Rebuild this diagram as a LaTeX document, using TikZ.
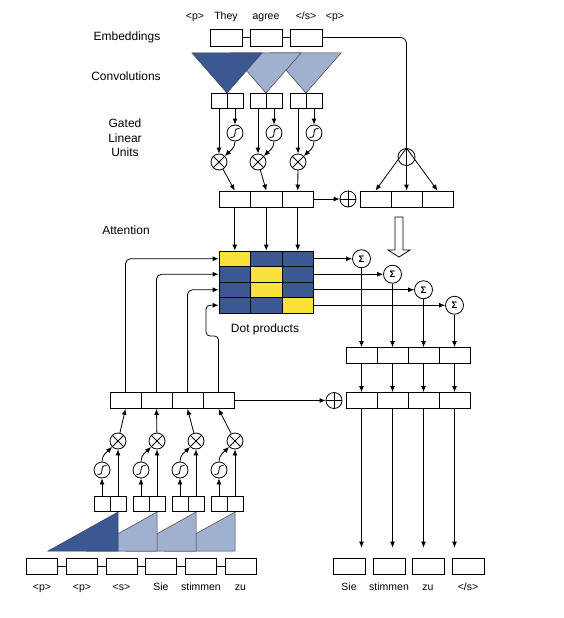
\documentclass[tikz,border=0pt]{standalone}
\usepackage{fontspec}
\setmainfont{Liberation Sans}
\usepackage{xcolor}
\usepackage{tikz}
\usetikzlibrary{arrows.meta}

\definecolor{convdark}{RGB}{59,88,146}
\definecolor{convlight}{RGB}{160,176,207}
\definecolor{hotcell}{RGB}{249,226,60}

\begin{document}
\begin{tikzpicture}[
  x=1pt, y=-1pt,
  box/.style={rectangle, draw, thick, minimum width=31pt, minimum height=16pt, inner sep=0pt},
  halfbox/.style={rectangle, draw, thick, minimum width=16pt, minimum height=15pt, inner sep=0pt},
  cell/.style={rectangle, draw, thick, fill=convdark, minimum width=31.5pt, minimum height=15.5pt, inner sep=0pt},
  op/.style={circle, draw, thick, fill=white, minimum size=16pt, inner sep=0pt},
  mul/.style={op, path picture={
      \draw[thick] (path picture bounding box.north west) -- (path picture bounding box.south east)
                   (path picture bounding box.north east) -- (path picture bounding box.south west);}},
  add/.style={op, path picture={
      \draw[thick] (path picture bounding box.north) -- (path picture bounding box.south)
                   (path picture bounding box.west) -- (path picture bounding box.east);}},
  sig/.style={op, path picture={
      \draw[thick] ([shift={(-4.5,4.5)}]path picture bounding box.center)
        .. controls +(9,0) and +(-9,0) .. ([shift={(4.5,-4.5)}]path picture bounding box.center);}},
  sum/.style={circle, draw, thick, fill=white, minimum size=18pt, inner sep=0pt, font=\fontsize{9.5}{9.5}\selectfont\bfseries},
  heading/.style={font=\fontsize{12}{14.5}\selectfont, align=center},
  word/.style={font=\fontsize{10.5}{12}\selectfont, text height=8pt, text depth=2pt},
  conv/.style={draw=black!75, line width=0.5pt},
  arrow/.style={->, thick, >={Latex[length=6pt, width=5pt]}}
]
\useasboundingbox (0,0) rectangle (563,618);

% headings
\node[heading] (embtitle) at (127,37.5) {Embeddings};
\node[heading] (convtitle) at (126,76) {Convolutions};
\node[heading] (glutitle) at (125,138) {Gated\\Linear\\Units};
\node[heading] (atttitle) at (126,230) {Attention};
\node[heading] (dottitle) at (265,329) {Dot products};

% source sentence
\node[word] (src0) at (195,17) {<p>};
\node[word] (src1) at (226,17) {They};
\node[word] (src2) at (266,17) {agree};
\node[word] (src3) at (306,17) {</s>};
\node[word] (src4) at (335,17) {<p>};

\node[box, minimum width=32pt, minimum height=17pt] (emb1) at (226,37.5) {};
\node[box, minimum width=32pt, minimum height=17pt] (emb2) at (266,37.5) {};
\node[box, minimum width=32pt, minimum height=17pt] (emb3) at (306,37.5) {};
\draw[thick] (emb1) -- (emb2);
\draw[thick] (emb2) -- (emb3);

% encoder convolutions
\filldraw[conv, fill=convlight] (271,53) -- (341,53) -- (306,93) -- cycle;
\filldraw[conv, fill=convlight] (231,53) -- (301,53) -- (266,93) -- cycle;
\filldraw[conv, fill=convdark] (192,53) -- (262,53) -- (227,93) -- cycle;

\node[halfbox] (encl1) at (219,100.5) {};
\node[halfbox] (encr1) at (235,100.5) {};
\node[halfbox] (encl2) at (258,100.5) {};
\node[halfbox] (encr2) at (274,100.5) {};
\node[halfbox] (encl3) at (298,100.5) {};
\node[halfbox] (encr3) at (314,100.5) {};

% encoder gated linear units
\node[sig] (encsig1) at (235,133) {};
\node[sig] (encsig2) at (274,133) {};
\node[sig] (encsig3) at (314,133) {};
\node[mul] (encmul1) at (219,162) {};
\node[mul] (encmul2) at (258,162) {};
\node[mul] (encmul3) at (298,162) {};

\draw[arrow] (encl1.south) -- (encmul1.north);
\draw[arrow] (encl2.south) -- (encmul2.north);
\draw[arrow] (encl3.south) -- (encmul3.north);
\draw[arrow] (encr1.south) -- (encsig1.north);
\draw[arrow] (encr2.south) -- (encsig2.north);
\draw[arrow] (encr3.south) -- (encsig3.north);
\draw[arrow] (encsig1.south) to[out=-90, in=45] (encmul1.north east);
\draw[arrow] (encsig2.south) to[out=-90, in=45] (encmul2.north east);
\draw[arrow] (encsig3.south) to[out=-90, in=45] (encmul3.north east);

\node[box, minimum width=31.5pt] (enc1) at (234.75,199) {};
\node[box, minimum width=31.5pt] (enc2) at (266.25,199) {};
\node[box, minimum width=31.5pt] (enc3) at (297.75,199) {};
\draw[arrow] (encmul1) -- (enc1.north);
\draw[arrow] (encmul2) -- (enc2.north);
\draw[arrow] (encmul3) -- (enc3.north);

% residual from the embeddings
\node[add] (add1) at (348,199) {};
\node[op, minimum size=17pt] (split) at (406.5,157) {};
\node[box] (res1) at (375.5,199) {};
\node[box] (res2) at (406.5,199) {};
\node[box] (res3) at (437.5,199) {};
\draw[arrow] (enc3.east) -- (add1.west);
\draw[thick, rounded corners=6pt] (emb3.east) -| (split.north);
\draw[arrow] (split.north) -- (res1.north);
\draw[arrow] (split.north) -- (res2.north);
\draw[arrow] (split.north) -- (res3.north);
\draw[thick, fill=white] (395,217) -- (403,217) -- (403,250) -- (410,250) -- (399,257)
  -- (388,250) -- (395,250) -- cycle;

% attention matrix
\node[cell, fill=hotcell] (att11) at (234.75,258.75) {};
\node[cell] (att12) at (266.25,258.75) {};
\node[cell] (att13) at (297.75,258.75) {};
\node[cell] (att21) at (234.75,274.25) {};
\node[cell, fill=hotcell] (att22) at (266.25,274.25) {};
\node[cell] (att23) at (297.75,274.25) {};
\node[cell] (att31) at (234.75,289.75) {};
\node[cell, fill=hotcell] (att32) at (266.25,289.75) {};
\node[cell] (att33) at (297.75,289.75) {};
\node[cell] (att41) at (234.75,305.25) {};
\node[cell] (att42) at (266.25,305.25) {};
\node[cell, fill=hotcell] (att43) at (297.75,305.25) {};
\draw[arrow] (enc1.south) -- (att11.north);
\draw[arrow] (enc2.south) -- (att12.north);
\draw[arrow] (enc3.south) -- (att13.north);

\node[sum] (sum1) at (361.5,258.75) {Σ};
\node[sum] (sum2) at (392.5,274.25) {Σ};
\node[sum] (sum3) at (423.5,289.75) {Σ};
\node[sum] (sum4) at (454.5,305.25) {Σ};
\draw[arrow] (att13.east) -- (sum1.west);
\draw[arrow] (att23.east) -- (sum2.west);
\draw[arrow] (att33.east) -- (sum3.west);
\draw[arrow] (att43.east) -- (sum4.west);

% context vectors
\node[box] (ctx1) at (361.5,355.5) {};
\node[box] (ctx2) at (392.5,355.5) {};
\node[box] (ctx3) at (423.5,355.5) {};
\node[box] (ctx4) at (454.5,355.5) {};
\draw[arrow] (sum1.south) -- (ctx1.north);
\draw[arrow] (sum2.south) -- (ctx2.north);
\draw[arrow] (sum3.south) -- (ctx3.north);
\draw[arrow] (sum4.south) -- (ctx4.north);

\node[add] (add2) at (334,400.5) {};
\node[box] (comb1) at (361.5,400.5) {};
\node[box] (comb2) at (392.5,400.5) {};
\node[box] (comb3) at (423.5,400.5) {};
\node[box] (comb4) at (454.5,400.5) {};
\draw[arrow] (ctx1.south) -- (comb1.north);
\draw[arrow] (ctx2.south) -- (comb2.north);
\draw[arrow] (ctx3.south) -- (comb3.north);
\draw[arrow] (ctx4.south) -- (comb4.north);

% predictions
\node[box, minimum width=32pt] (out1) at (349,566) {};
\node[box, minimum width=32pt] (out2) at (389,566) {};
\node[box, minimum width=32pt] (out3) at (428,566) {};
\node[box, minimum width=32pt] (out4) at (468,566) {};
\draw[arrow, shorten >=10pt] (comb1.south) -- (comb1.south |- out1.north);
\draw[arrow, shorten >=10pt] (comb2.south) -- (comb2.south |- out2.north);
\draw[arrow, shorten >=10pt] (comb3.south) -- (comb3.south |- out3.north);
\draw[arrow, shorten >=10pt] (comb4.south) -- (comb4.south |- out4.north);
\node[word] (pred1) at (349,587) {Sie};
\node[word] (pred2) at (389,587) {stimmen};
\node[word] (pred3) at (428,587) {zu};
\node[word] (pred4) at (468,587) {</s>};

% decoder states
\node[box] (dec1) at (125.5,400.5) {};
\node[box] (dec2) at (156.5,400.5) {};
\node[box] (dec3) at (187.5,400.5) {};
\node[box] (dec4) at (218.5,400.5) {};
\coordinate (jog) at (206,336);
\draw[arrow, rounded corners=5pt] (dec1.north) |- (att11.west);
\draw[arrow, rounded corners=5pt] (dec2.north) |- (att21.west);
\draw[arrow, rounded corners=5pt] (dec3.north) |- (att31.west);
\draw[arrow, rounded corners=4pt] (dec4.north) |- (jog) |- (att41.west);
\draw[arrow] (dec4.east) -- (add2.west);

% decoder gated linear units
\node[mul] (decmul1) at (118,441) {};
\node[mul] (decmul2) at (157,441) {};
\node[mul] (decmul3) at (196,441) {};
\node[mul] (decmul4) at (235,441) {};
\node[sig] (decsig1) at (102,470) {};
\node[sig] (decsig2) at (141,470) {};
\node[sig] (decsig3) at (180,470) {};
\node[sig] (decsig4) at (219,470) {};
\draw[arrow] (decmul1) -- (dec1.south);
\draw[arrow] (decmul2) -- (dec2.south);
\draw[arrow] (decmul3) -- (dec3.south);
\draw[arrow] (decmul4) -- (dec4.south);

\node[halfbox] (decl1) at (102,504) {};
\node[halfbox] (decr1) at (118,504) {};
\node[halfbox] (decl2) at (141,504) {};
\node[halfbox] (decr2) at (157,504) {};
\node[halfbox] (decl3) at (180,504) {};
\node[halfbox] (decr3) at (196,504) {};
\node[halfbox] (decl4) at (219,504) {};
\node[halfbox] (decr4) at (235,504) {};
\draw[arrow] (decr1.north) -- (decmul1.south);
\draw[arrow] (decr2.north) -- (decmul2.south);
\draw[arrow] (decr3.north) -- (decmul3.south);
\draw[arrow] (decr4.north) -- (decmul4.south);
\draw[arrow] (decl1.north) -- (decsig1.south);
\draw[arrow] (decl2.north) -- (decsig2.south);
\draw[arrow] (decl3.north) -- (decsig3.south);
\draw[arrow] (decl4.north) -- (decsig4.south);
\draw[arrow] (decsig1.north) to[out=90, in=-135] (decmul1.south west);
\draw[arrow] (decsig2.north) to[out=90, in=-135] (decmul2.south west);
\draw[arrow] (decsig3.north) to[out=90, in=-135] (decmul3.south west);
\draw[arrow] (decsig4.north) to[out=90, in=-135] (decmul4.south west);

% decoder convolutions
\filldraw[conv, fill=convlight] (165,551) -- (235,551) -- (235,512) -- cycle;
\filldraw[conv, fill=convlight] (126,551) -- (196,551) -- (196,512) -- cycle;
\filldraw[conv, fill=convlight] (87,551) -- (157,551) -- (157,512) -- cycle;
\filldraw[conv, fill=convdark] (48,551) -- (118,551) -- (118,512) -- cycle;

% target sentence
\node[box] (tgt1) at (42,566) {};
\node[box] (tgt2) at (82,566) {};
\node[box] (tgt3) at (121.5,566) {};
\node[box] (tgt4) at (161,566) {};
\node[box] (tgt5) at (201,566) {};
\node[box] (tgt6) at (240.5,566) {};
\draw[thick] (tgt1) -- (tgt2);
\draw[thick] (tgt2) -- (tgt3);
\draw[thick] (tgt3) -- (tgt4);
\draw[thick] (tgt4) -- (tgt5);
\draw[thick] (tgt5) -- (tgt6);
\node[word] (in1) at (42,587) {<p>};
\node[word] (in2) at (82,587) {<p>};
\node[word] (in3) at (121.5,587) {<s>};
\node[word] (in4) at (161,587) {Sie};
\node[word] (in5) at (201,587) {stimmen};
\node[word] (in6) at (240.5,587) {zu};

\end{tikzpicture}
\end{document}
